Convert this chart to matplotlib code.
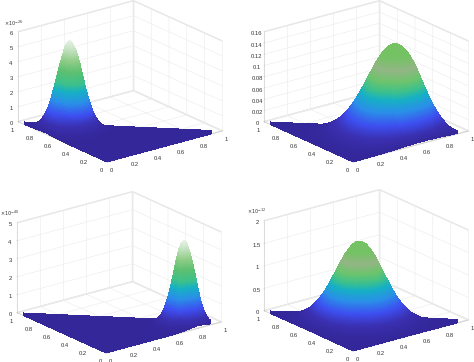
import numpy as np
import matplotlib
matplotlib.use('Agg')
import matplotlib.pyplot as plt
from matplotlib.colors import LinearSegmentedColormap

plt.rcParams['font.family'] = ['Liberation Sans', 'DejaVu Sans']

# profiles read off the picture, sampled every 0.05 along each base axis (peak = 1)
# the surface lives on the triangle x + y <= 1 and drops to 0 on the long edge
grid = [round(i * 0.05, 2) for i in range(21)]
p1_x = [0, .135, .37, .71, .97, .94, .64, .31, .106, .026, .004, 0, 0, 0, 0, 0, 0, 0, 0, 0, 0]
p1_y = [0, 0, 0, 0, 0, 0, 0, 0, .002, .013, .063, .21, .5, .84, 1, .84, .5, .21, .063, .013, .002]
p2_x = [0, .011, .03, .06, .109, .183, .288, .42, .575, .73, .87, .966, 1, .966, .87, .73, .575, .42, .25, .1, 0]
p2_y = [0, .2, .42, .66, .87, .966, 1, .966, .87, .73, .575, .42, .288, .183, .109, .06, .031, .015, .007, .003, 0]
p3_x = [0, 0, 0, 0, 0, 0, 0, 0, 0, 0, .001, .005, .031, .142, .42, .805, 1, .805, .42, .142, 0]
p3_y = [0, .25, .75, 1, .72, .3, .08, .015, .002, 0, 0, 0, 0, 0, 0, 0, 0, 0, 0, 0, 0]
p4_x = [0, .04, .08, .19, .317, .48, .66, .83, .955, 1, .955, .83, .66, .48, .317, .19, .105, .053, .024, .01, 0]
p4_y = [0, .02, .05, .1, .19, .317, .48, .66, .83, .955, 1, .955, .83, .66, .48, .317, .19, .105, .053, .024, .01]
edge_s = [1, 1, 1, 1, 1, 1, 1, 1, 1, 1, 1, 1, 1, 1, 1, 1, 1, 1, 1, .85, 0]

peaks = [5.8, 0.157, 4.6, 1.72]
z_tops = [6, 0.16, 5, 2]
z_ticks = [[0, 1, 2, 3, 4, 5, 6],
           [0, 0.02, 0.04, 0.06, 0.08, 0.1, 0.12, 0.14, 0.16],
           [0, 1, 2, 3, 4, 5],
           [0, 0.5, 1, 1.5, 2]]
z_labels = [['0', '1', '2', '3', '4', '5', '6'],
            ['0', '0.02', '0.04', '0.06', '0.08', '0.1', '0.12', '0.14', '0.16'],
            ['0', '1', '2', '3', '4', '5'],
            ['0', '0.5', '1', '1.5', '2']]
exponents = ['$\\times 10^{-26}$', '', '$\\times 10^{-40}$', '$\\times 10^{-12}$']
base_ticks = [0, 0.2, 0.4, 0.6, 0.8, 1]
base_labels = ['0', '0.2', '0.4', '0.6', '0.8', '1']

profiles = [(p1_x, p1_y), (p2_x, p2_y), (p3_x, p3_y), (p4_x, p4_y)]
# left, bottom, width, height in figure fractions
positions = [(-0.0217, 0.5083, 0.54, 0.52), (0.4973, 0.5083, 0.54, 0.52),
             (-0.0238, -0.0193, 0.54, 0.52), (0.4973, -0.0138, 0.54, 0.52)]
offset_xy = [(0.008, 0.93), (0, 0), (0.0, 0.403), (0.521, 0.409)]

wide = LinearSegmentedColormap.from_list('wide', [
    (0, '#34279a'), (.1, '#3a2fb0'), (.22, '#3d4ff0'), (.35, '#2a8fe8'), (.47, '#16b0c4'),
    (.55, '#3cc08c'), (.65, '#6cc46c'), (.76, '#93b585'), (.88, '#74c264'), (1, '#74c264')])
# the two thin peaks fade out at the very top
thin = LinearSegmentedColormap.from_list('thin', [
    (0, '#34279a'), (.1, '#3a2fb0'), (.22, '#3d4ff0'), (.35, '#2a8fe8'), (.47, '#16b0c4'),
    (.55, '#3cc08c'), (.68, '#5cc070'), (.8, '#90cc88'), (1, '#e8f2e8')])
cmaps = [thin, wide, thin, wide]


def refine(values, at):
    # finer lookup for the drawing only, the read values stay the tables above
    fine = np.linspace(0, 1, 221)
    line = np.interp(fine, grid, values)
    kernel = np.ones(9) / 9
    pad = np.pad(line, 4, mode='edge')
    return np.interp(at, fine, np.convolve(pad, kernel, mode='valid'))


fig = plt.figure(figsize=(4.74, 3.62), dpi=100)
u, v = np.meshgrid(np.linspace(0, 1, 241), np.linspace(0, 1, 241))
X = u
Y = (1 - u) * v
for i in range(4):
    ax = fig.add_axes(positions[i], projection='3d', proj_type='ortho')
    ax.patch.set_alpha(0)
    Z = refine(profiles[i][0], X) * refine(profiles[i][1], Y) * refine(edge_s, X + Y)
    Z = Z / Z.max() * peaks[i]
    ax.plot_surface(X, Y, Z, rcount=241, ccount=241, cmap=cmaps[i], vmin=0, vmax=Z.max(),
                    linewidth=0, antialiased=False, shade=False)
    ax.view_init(elev=20.45, azim=-127.6)
    ax.set_box_aspect((1, 1, 0.66), zoom=1.171)
    ax.set_xlim(0, 1, view_margin=0)
    ax.set_ylim(0, 1, view_margin=0)
    ax.set_zlim(0, z_tops[i], view_margin=0)
    ax.set_xticks(base_ticks, base_labels)
    ax.set_yticks(base_ticks, base_labels)
    ax.set_zticks(z_ticks[i], z_labels[i])
    ax.tick_params(labelsize=4.2, pad=-4.5, labelcolor='#333333', color='#999999')
    ax.tick_params(axis='z', pad=-5.5)
    for axis in (ax.xaxis, ax.yaxis, ax.zaxis):
        axis.set_pane_color((1, 1, 1, 1))
        axis.pane.set_edgecolor('#e4e4e4')
        axis.line.set_color('#c8c8c8')
        axis.line.set_linewidth(0.4)
        axis._axinfo['grid'].update(color='#ebebeb', linewidth=0.4)
        axis._axinfo['tick'].update(inward_factor=0.02, outward_factor=0.0,
                                    linewidth={True: 0.3, False: 0.3})
    if exponents[i]:
        fig.text(offset_xy[i][0], offset_xy[i][1], exponents[i], fontsize=3.5, color='#333333')

fig.savefig('out.png', dpi=100, facecolor='white')
